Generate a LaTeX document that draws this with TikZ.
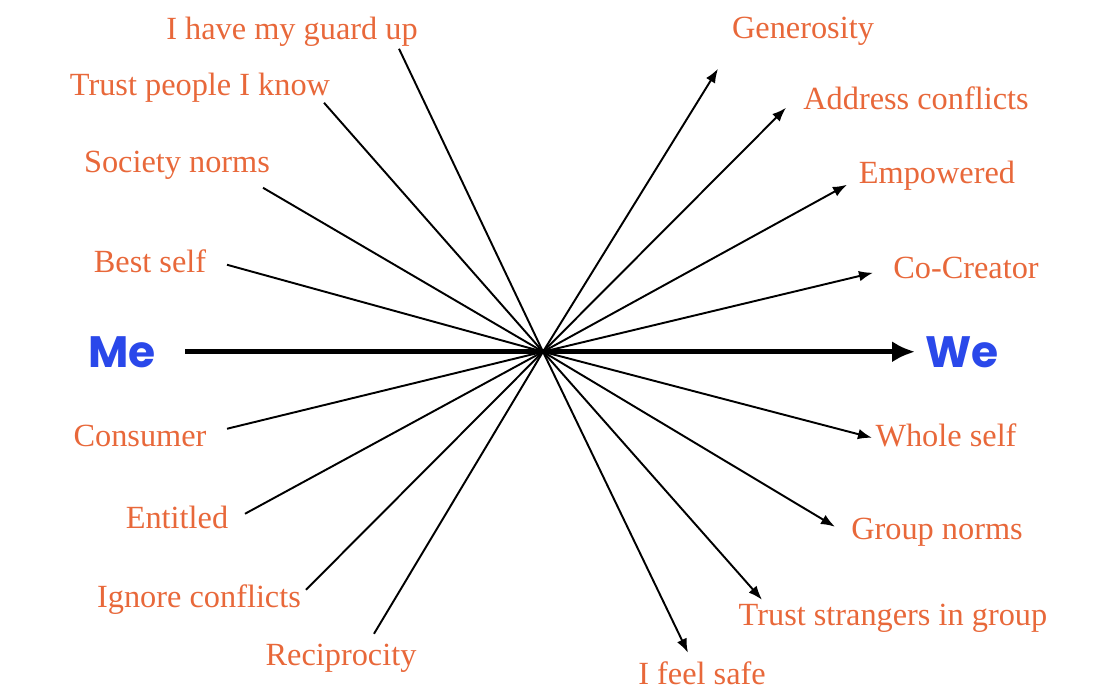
\documentclass[tikz,border=0pt]{standalone}
\usepackage{fontspec}
\setmainfont{Liberation Serif}
\newfontfamily\mefont{Poppins}
\usetikzlibrary{arrows.meta}
\definecolor{labelorange}{RGB}{232,104,58}
\definecolor{meblue}{RGB}{42,72,234}

\begin{document}
\begin{tikzpicture}[x=0.02cm, y=-0.02cm, line width=1.1pt, every node/.style={text=labelorange, font=\fontsize{18.4}{20}\selectfont, inner sep=0pt, yshift=-1pt}, arr/.style={-{Latex[length=8pt, width=6pt]}}, side/.style={text=meblue, font=\mefont\bfseries\fontsize{25}{28}\selectfont}]
			\useasboundingbox (0,0) rectangle (1114,699);
			\coordinate (c) at (543,350);
			% left side
			\node (guard) at (292,30) {I have my guard up};
			\node (know) at (200,86) {Trust people I know};
			\node (society) at (177,164) {Society norms};
			\node (best) at (150,260) {Best self};
			\node (consumer) at (140,434) {Consumer};
			\node (entitled) at (177,516) {Entitled};
			\node (ignore) at (199,598) {Ignore conflicts};
			\node (recip) at (341,657) {Reciprocity};
			\coordinate (l1) at (399,47);
			\coordinate (l2) at (324,101);
			\coordinate (l3) at (263,186);
			\coordinate (l4) at (227,263);
			\coordinate (l5) at (227,427);
			\coordinate (l6) at (245,512);
			\coordinate (l7) at (306,588);
			\coordinate (l8) at (374,632);
			% right side
			\node (gener) at (803,30) {Generosity};
			\node (address) at (916,97) {Address conflicts};
			\node (empow) at (937,174) {Empowered};
			\node (cocreate) at (966,266) {Co-Creator};
			\node (whole) at (946,434) {Whole self};
			\node (group) at (937,530) {Group norms};
			\node (strangers) at (893,617) {Trust strangers in group};
			\node (safe) at (702,672) {I feel safe};
			\coordinate (r1) at (718,67);
			\coordinate (r2) at (786,106);
			\coordinate (r3) at (847,183);
			\coordinate (r4) at (873,271);
			\coordinate (r5) at (872,436);
			\coordinate (r6) at (835,525);
			\coordinate (r7) at (762,598);
			\coordinate (r8) at (688,651);
			% me and we
			\node[side] (me) at (122,350) {Me};
			\node[side] (we) at (962,350) {We};
			\coordinate (mestart) at (185,350);
			\coordinate (weend) at (915,350);
			\draw[line width=2.9pt, -{Latex[length=13pt, width=12pt]}] (mestart) -- (weend);

			\foreach \i in {1,...,8} {
				\draw (l\i) -- (c);
				\draw[arr] (c) -- (r\i);
			}
\end{tikzpicture}
\end{document}
